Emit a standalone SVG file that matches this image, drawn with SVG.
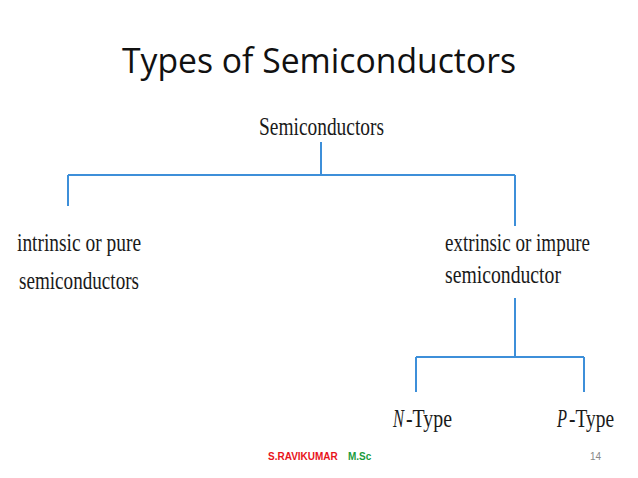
<svg xmlns="http://www.w3.org/2000/svg" width="638" height="478" viewBox="0 0 638 478">
<style>
.t{font-family:"Liberation Serif",serif;font-size:26px;fill:#1a1a1a}
.i{font-style:italic}
.c{stroke:#3d8fd9;stroke-width:2;fill:none}
</style>
<rect width="638" height="478" fill="#fff"/>
<text x="319" y="73" text-anchor="middle" font-family="Open Sans, Liberation Sans, sans-serif" font-size="34" fill="#111" textLength="394" lengthAdjust="spacingAndGlyphs">Types of Semiconductors</text>
<g id="connectors">
<path class="c" d="M321 142V175M68 175H515M68 175V206M515 175V226"/>
<path class="c" d="M515 298V357M416 357H584M416 357V392M584 357V392"/>
</g>
<g id="root"><text class="t" x="259" y="135" textLength="125" lengthAdjust="spacingAndGlyphs">Semiconductors</text></g>
<g id="intrinsic"><text class="t" x="17" y="251" textLength="124" lengthAdjust="spacingAndGlyphs">intrinsic or pure</text><text class="t" x="19" y="289" textLength="120" lengthAdjust="spacingAndGlyphs">semiconductors</text></g>
<g id="extrinsic"><text class="t" x="445" y="251" textLength="145" lengthAdjust="spacingAndGlyphs">extrinsic or impure</text><text class="t" x="445" y="283" textLength="116" lengthAdjust="spacingAndGlyphs">semiconductor</text></g>
<g id="ntype"><text class="t i" x="393" y="427" textLength="11" lengthAdjust="spacingAndGlyphs">N</text><text class="t" x="406" y="427" textLength="46" lengthAdjust="spacingAndGlyphs">-Type</text></g>
<g id="ptype"><text class="t i" x="557" y="427" textLength="10" lengthAdjust="spacingAndGlyphs">P</text><text class="t" x="569" y="427" textLength="45" lengthAdjust="spacingAndGlyphs">-Type</text></g>
<text x="268" y="460" font-family="Liberation Sans, sans-serif" font-size="10" font-weight="bold" fill="#e8141b">S.RAVIKUMAR</text>
<text x="348" y="460" font-family="Liberation Sans, sans-serif" font-size="10" font-weight="bold" fill="#1a9c3c">M.Sc</text>
<text x="590" y="460" font-family="Liberation Sans, sans-serif" font-size="10" fill="#888">14</text>
</svg>
